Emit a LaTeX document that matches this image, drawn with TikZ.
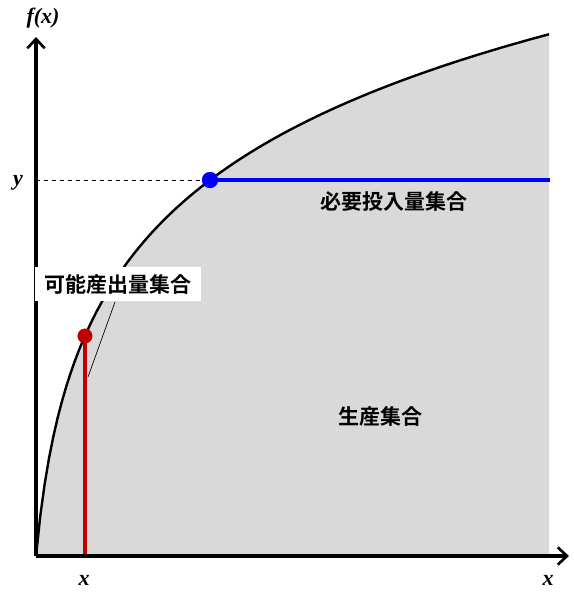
\documentclass[tikz,border=0pt]{standalone}
\usepackage{fontspec}
\setmainfont{Liberation Serif}
\newfontfamily\jpfont{Noto Sans CJK JP}[BoldFont={Noto Sans CJK JP Bold}]
\definecolor{setgray}{RGB}{217,217,217}
\definecolor{darkred}{RGB}{192,0,0}
\definecolor{pureblue}{RGB}{0,0,255}
\usetikzlibrary{arrows.meta}

\begin{document}
\begin{tikzpicture}[x=0.75pt,y=-0.75pt,
    axis/.style={line width=2.4pt,-{Straight Barb[length=7pt,width=13pt,line width=2pt]}},
    varlabel/.style={font=\fontsize{16.5}{16.5}\selectfont\bfseries\itshape},
    setlabel/.style={font=\jpfont\fontsize{15.75}{16}\selectfont\bfseries},
    dot/.style={circle,inner sep=0pt,minimum size=11pt}]
\useasboundingbox (0,0) rectangle (574,599);

% production set under the curve
\fill[setgray] plot[domain=0:513,samples=120] ({36+\x},{556-141*ln(1+\x/13)}) -- (549,556) -- (36,556) -- cycle;
\draw[line width=1.8pt] plot[domain=0:513,samples=120] ({36+\x},{556-141*ln(1+\x/13)});

\coordinate (o) at (36,556);
\coordinate (ytop) at (36,37);
\coordinate (xend) at (569,556);
\coordinate (ymark) at (36,180);
\coordinate (xmark) at (85,556);
\coordinate (bluend) at (550,180);
\coordinate (leadend) at (88,377);

\node[dot,fill=darkred] (xdot) at (85,336) {};
\node[dot,fill=pureblue,minimum size=12pt] (ydot) at (210,180) {};

\draw[line width=2.4pt,draw=darkred] (xmark) -- (xdot.center);
\draw[line width=2.4pt,draw=pureblue] (ydot.center) -- (bluend);
\draw[dashed,line width=0.5pt] (ymark) -- (ydot.west);
\node[dot,fill=darkred] at (xdot) {};
\node[dot,fill=pureblue,minimum size=12pt] at (ydot) {};

\draw[axis] (o) -- (ytop);
\draw[axis] (o) -- (xend);

\node[varlabel] (fx) at (43,18) {f(x)};
\node[varlabel] (ylab) at (18,183) {y};
\node[varlabel] (xlab) at (84,580) {x};
\node[varlabel] (xaxlab) at (548,580) {x};

\node[setlabel,fill=white,minimum width=125pt,minimum height=26pt] (outset) at (118,284) {可能産出量集合};
\draw[line width=0.5pt] (115,302) -- (leadend);
\node[setlabel] (inset) at (394,202) {必要投入量集合};
\node[setlabel] (prodset) at (380,417) {生産集合};
\end{tikzpicture}
\end{document}
